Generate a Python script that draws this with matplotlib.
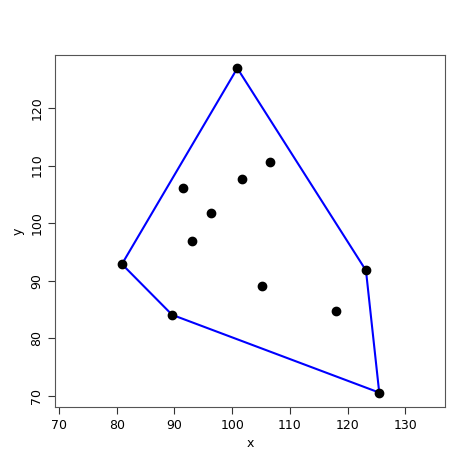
import matplotlib
matplotlib.use("Agg")
import matplotlib.pyplot as plt

xs = [100.9, 80.9, 89.6, 125.5, 123.2, 91.5, 101.7, 106.6, 96.3, 93.0, 105.2, 118.0]
ys = [126.9, 92.9, 84.1, 70.6, 91.8, 106.2, 107.6, 110.7, 101.8, 96.9, 89.1, 84.7]
hull = [0, 4, 3, 2, 1, 0]

fig = plt.figure(figsize=(4.74, 4.74), dpi=100)
ax = fig.add_axes([55/474, 67/474, 390/474, 352/474])
ax.plot([xs[i] for i in hull], [ys[i] for i in hull], color="blue", lw=1.5, zorder=1)
ax.scatter(xs, ys, s=36, color="black", zorder=2)
ax.set_xlim(69.3, 136.9)
ax.set_ylim(68.1, 129.2)
ax.set_xticks(range(70, 131, 10))
ax.set_yticks(range(70, 121, 10))
ax.tick_params(labelsize=9, length=5, color="#333333")
for lab in ax.get_yticklabels():
    lab.set_rotation(90)
    lab.set_va("center")
ax.set_xlabel("x", fontsize=9)
ax.set_ylabel("y", fontsize=9)
for s in ax.spines.values():
    s.set_color("#555555")
fig.savefig("out.png", dpi=100)
